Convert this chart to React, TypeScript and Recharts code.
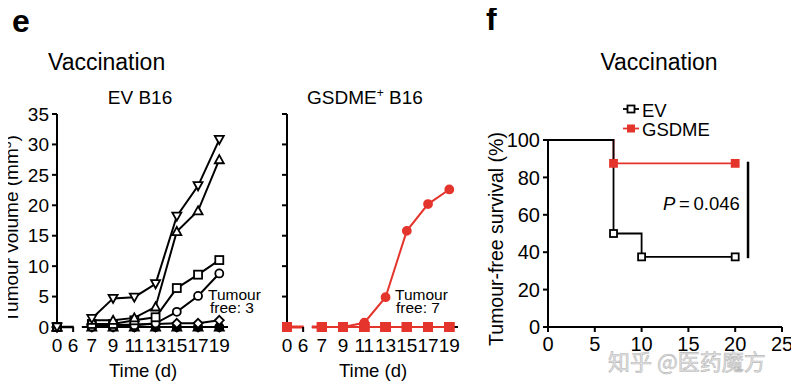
import React from "react";
import { LineChart, Line, XAxis, YAxis, ReferenceLine } from "recharts";

// measurement days (axis is broken between 6 and 7)
const DAYS = [0, 7, 9, 11, 13, 15, 17, 19];
const TICK_DAYS = [0, 6, 7, 9, 11, 13, 15, 17, 19];
const VOL_TICKS = [0, 5, 10, 15, 20, 25, 30, 35];

// EV B16, tumour volume per mouse (mm3)
const EV_TRI_DOWN = [0, 1.4, 4.7, 4.9, 7.1, 18.2, 23.2, 30.8];
const EV_TRI_UP = [0, 1.1, 1.1, 1.5, 3.3, 15.7, 19.1, 27.5];
const EV_SQUARE = [0, 0.5, 0.5, 1.1, 1.6, 6.4, 8.6, 11.0];
const EV_CIRCLE = [0, 0.1, 0.1, 0.3, 0.6, 2.5, 5.1, 8.8];
const EV_DIAMOND = [0, 0.3, 0.3, 0.4, 0.5, 0.6, 0.6, 1.1];
const EV_FREE = [
  [0, 0, 0, 0, 0, 0, 0, 0],
  [0, 0, 0, 0, 0, 0, 0, 0],
  [0, 0, 0, 0, 0, 0, 0, 0],
];

// GSDME+ B16
const GS_TUMOUR = [0, 0, 0, 0.7, 4.9, 15.8, 20.2, 22.6];
const GS_FREE = [
  [0, 0, 0, 0, 0, 0, 0, 0],
  [0, 0, 0, 0, 0, 0, 0, 0],
  [0, 0, 0, 0, 0, 0, 0, 0],
  [0, 0, 0, 0, 0, 0, 0, 0],
  [0, 0, 0, 0, 0, 0, 0, 0],
  [0, 0, 0, 0, 0, 0, 0, 0],
  [0, 0, 0, 0, 0, 0, 0, 0],
];

// tumour-free survival (Kaplan-Meier)
const KM_EV_T = [0, 7, 10, 20];
const KM_EV_S = [100, 50, 37.5, 37.5];
const KM_GS_T = [0, 7, 20];
const KM_GS_S = [100, 87.5, 87.5];
const KM_X_TICKS = [0, 5, 10, 15, 20, 25];
const KM_Y_TICKS = [0, 20, 40, 60, 80, 100];

const RED = "#e4352d";
const FONT = "'Liberation Sans', Arial, Helvetica, sans-serif";

// broken axis: day -> plotting position
const pos = (d: number) => (d <= 6 ? (d / 6) * 0.76 : 1.64 + (d - 7) / 2);
const X_MAX = 8.05;
const GAP = [0.79, 1.17];

const buildRows = (series: number[][]) => {
  const rows: any[] = [];
  DAYS.forEach((d, i) => {
    const r: any = { x: pos(d) };
    series.forEach((s, k) => (r["s" + k] = s[i]));
    rows.push(r);
    if (d === 0) {
      const gap: any = { x: (GAP[0] + GAP[1]) / 2 };
      series.forEach((_, k) => (gap["s" + k] = null));
      rows.push(gap);
    }
  });
  return rows;
};

const EV_SERIES = [...EV_FREE, EV_DIAMOND, EV_CIRCLE, EV_SQUARE, EV_TRI_UP, EV_TRI_DOWN];
const EV_SHAPES = ["circleF", "diamondF", "upF", "diamond", "circle", "square", "up", "down"];
const GS_SERIES = [...GS_FREE, GS_TUMOUR];
const GS_SHAPES = [...GS_FREE.map(() => "squareF"), "circleF"];

const evRows = buildRows(EV_SERIES);
const gsRows = buildRows(GS_SERIES);
const kmEv = KM_EV_T.map((t, i) => ({ t, s: KM_EV_S[i] }));
const kmGs = KM_GS_T.map((t, i) => ({ t, s: KM_GS_S[i] }));

const marker = (shape: string, color: string, r = 4.5, skipFirst = false) => (p: any) => {
  const { cx, cy, value, index } = p;
  if (cx == null || cy == null || value == null || (skipFirst && index === 0)) return <g key={"m" + index} />;
  const filled = shape.endsWith("F");
  const fill = filled ? color : "#fff";
  const base = filled ? shape.slice(0, -1) : shape;
  const common = { key: "m" + index, fill, stroke: color, strokeWidth: 1.8 };
  if (base === "circle") return <circle {...common} cx={cx} cy={cy} r={r - 0.5} />;
  if (base === "square") return <rect {...common} x={cx - r + 0.5} y={cy - r + 0.5} width={2 * r - 1} height={2 * r - 1} />;
  if (base === "diamond")
    return <polygon {...common} points={`${cx},${cy - r} ${cx + r},${cy} ${cx},${cy + r} ${cx - r},${cy}`} />;
  if (base === "up")
    return <polygon {...common} points={`${cx},${cy - r} ${cx + r},${cy + r * 0.8} ${cx - r},${cy + r * 0.8}`} />;
  return <polygon {...common} points={`${cx - r},${cy - r * 0.8} ${cx + r},${cy - r * 0.8} ${cx},${cy + r}`} />;
};

const tickStyle = { fill: "#000", fontSize: 19, fontFamily: FONT };
const axisStroke = { stroke: "#000", strokeWidth: 2 };

function VolumeChart({ rows, series, shapes, color, showLabels, yWidth, width, redAxis }: any) {
  return (
    <LineChart width={width} height={260} data={rows} margin={{ top: 14, right: 12, bottom: 3, left: 0 }}>
      <XAxis
        dataKey="x"
        type="number"
        domain={[0, X_MAX]}
        ticks={TICK_DAYS.map(pos)}
        interval={0}
        tickFormatter={(_v: any, i: number) => String(TICK_DAYS[i])}
        height={30}
        tickSize={5}
        tickMargin={7}
        axisLine={false}
        tickLine={axisStroke}
        tick={tickStyle}
      />
      <YAxis
        type="number"
        domain={[0, 35]}
        ticks={VOL_TICKS}
        interval={0}
        width={yWidth}
        tickSize={5}
        tickMargin={3}
        axisLine={axisStroke}
        tickLine={axisStroke}
        tick={tickStyle}
        tickFormatter={(v: any) => (showLabels ? String(v) : "")}
      />
      <ReferenceLine segment={[{ x: 0, y: 0 }, { x: GAP[0], y: 0 }]} stroke={redAxis ? color : "#000"} strokeWidth={redAxis ? 3 : 2.5} />
      <ReferenceLine segment={[{ x: GAP[1], y: 0 }, { x: X_MAX, y: 0 }]} stroke="#000" strokeWidth={2} />
      {redAxis && <ReferenceLine segment={[{ x: GAP[1], y: 0 }, { x: pos(7), y: 0 }]} stroke={color} strokeWidth={3} />}
      {series.map((_: any, k: number) => (
        <Line
          key={k}
          dataKey={"s" + k}
          type="linear"
          stroke={color}
          strokeWidth={2}
          dot={marker(shapes[k], color)}
          activeDot={false}
          connectNulls={false}
          isAnimationActive={false}
        />
      ))}
    </LineChart>
  );
}

export default function App() {
  return (
    <div style={{ position: "relative", width: 799, height: 391, background: "#fff", fontFamily: FONT, margin: -8 }}>
      <div style={{ position: "absolute", left: 0, top: 100 }}>
        <VolumeChart rows={evRows} series={EV_SERIES} shapes={EV_SHAPES} color="#000" showLabels yWidth={57} width={240} />
      </div>
      <div style={{ position: "absolute", left: 240, top: 100 }}>
        <VolumeChart rows={gsRows} series={GS_SERIES} shapes={GS_SHAPES} color={RED} yWidth={47} width={230} redAxis />
      </div>
      <div style={{ position: "absolute", left: 480, top: 100 }}>
        <LineChart width={319} height={260} margin={{ top: 40, right: 17, bottom: 0, left: 0 }}>
          <XAxis
            dataKey="t"
            type="number"
            domain={[0, 25]}
            ticks={KM_X_TICKS}
            interval={0}
            height={33}
            tickSize={5}
            tickMargin={5}
            axisLine={axisStroke}
            tickLine={axisStroke}
            tick={{ ...tickStyle, fontSize: 20 }}
          />
          <YAxis
            type="number"
            domain={[0, 100]}
            ticks={KM_Y_TICKS}
            interval={0}
            width={68}
            tickSize={5}
            tickMargin={3}
            axisLine={axisStroke}
            tickLine={axisStroke}
            tick={{ ...tickStyle, fontSize: 20 }}
          />
          <ReferenceLine segment={[{ x: 21.37, y: 88.4 }, { x: 21.37, y: 36.8 }]} stroke="#000" strokeWidth={2.5} />
          <Line data={kmGs} dataKey="s" type="stepAfter" stroke={RED} strokeWidth={1.8} dot={marker("squareF", RED, 4, true)} activeDot={false} isAnimationActive={false} />
          <Line data={kmEv} dataKey="s" type="stepAfter" stroke="#000" strokeWidth={1.8} dot={marker("square", "#000", 4, true)} activeDot={false} isAnimationActive={false} />
        </LineChart>
      </div>
      <svg width={799} height={391} style={{ position: "absolute", left: 0, top: 0, pointerEvents: "none" }} fontFamily={FONT}>
        <text x={12} y={32} fontSize={32} fontWeight="bold">e</text>
        <text x={486} y={30} fontSize={32} fontWeight="bold">f</text>
        <text x={48} y={70} fontSize={23}>Vaccination</text>
        <text x={659} y={70} fontSize={23} textAnchor="middle">Vaccination</text>
        <text x={140} y={104} fontSize={19} textAnchor="middle">EV B16</text>
        <text x={365} y={104} fontSize={19} textAnchor="middle">
          GSDME<tspan fontSize={12} dy={-7}>+</tspan>
          <tspan dy={7}> B16</tspan>
        </text>
        <text transform="translate(18,229) rotate(-90)" fontSize={19} textAnchor="middle">
          Tumour volume (mm<tspan fontSize={12} dy={-7}>3</tspan>
          <tspan dy={7}>)</tspan>
        </text>
        <text transform="translate(503,239) rotate(-90)" fontSize={19.5} textAnchor="middle">Tumour-free survival (%)</text>
        <text x={143} y={377} fontSize={18.5} textAnchor="middle">Time (d)</text>
        <text x={373} y={377} fontSize={18.5} textAnchor="middle">Time (d)</text>
        <text x={208} y={300} fontSize={15.5}>Tumour</text>
        <text x={210} y={313} fontSize={15.5}>free: 3</text>
        <text x={395} y={300} fontSize={15.5}>Tumour</text>
        <text x={396} y={313} fontSize={15.5}>free: 7</text>
        <line x1={623} x2={639} y1={109} y2={109} stroke="#000" strokeWidth={1.8} />
        <rect x={627.5} y={105.5} width={7} height={7} fill="#fff" stroke="#000" strokeWidth={1.8} />
        <text x={642} y={117} fontSize={18.5}>EV</text>
        <line x1={623} x2={639} y1={128.5} y2={128.5} stroke={RED} strokeWidth={1.8} />
        <rect x={627} y={124.5} width={8} height={8} fill={RED} />
        <text x={642} y={135.5} fontSize={18.5}>GSDME</text>
        <text x={663} y={210} fontSize={18.5}>
          <tspan fontStyle="italic">P</tspan>{"\u2009=\u20090.046"}
        </text>
        <text x={608} y={370} fontSize={22} fill="#e4e4e4" stroke="#b8b8b8" strokeWidth={0.6} fontFamily="'Noto Sans CJK SC', sans-serif">
          知乎 @医药魔方
        </text>
      </svg>
    </div>
  );
}
